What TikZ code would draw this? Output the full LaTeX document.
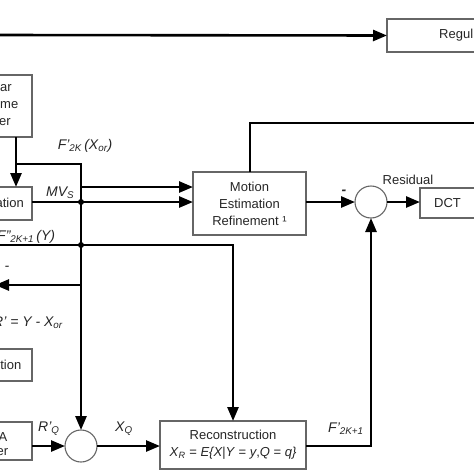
\documentclass[tikz,border=0pt]{standalone}
\usepackage{fontspec}
\setmainfont{Liberation Sans}
\usetikzlibrary{arrows.meta,calc}
\newcommand\sbs[1]{\textsubscript{#1}}
\begin{document}
\begin{tikzpicture}[x=1pt,y=-1pt,
 box/.style={draw=black!60, line width=1.1pt, inner sep=0pt, outer sep=0pt},
 conn/.style={line width=2.6pt, -{Triangle[length=14pt,width=11pt]}},
 wire/.style={line width=2.6pt},
 txt/.style={font=\fontsize{13}{17}\selectfont, text=black!85, inner sep=0pt, align=center},
 lab/.style={font=\fontsize{14}{16}\selectfont\itshape, text=black!85, inner sep=0pt},
 dotc/.style={circle, fill=black, inner sep=0pt, minimum size=6pt},
 sumc/.style={circle, draw=black!60, line width=1.1pt, minimum size=32pt, inner sep=0pt, outer sep=0pt}]
\clip (0,0) rectangle (474,474);
\fill[white] (0,0) rectangle (474,474);
% boxes
\node[box, minimum width=133pt, minimum height=33pt] (regul) at (453.5,35.5) {};
\node[txt, anchor=west] (regult) at (439,35.5) {Regul};
\node[box, minimum width=92pt, minimum height=62pt] (topbox) at (-14,106) {};
\node[txt, anchor=west] (tb1) at (0,88) {ar};
\node[txt, anchor=west] (tb2) at (0,105) {me};
\node[txt, anchor=west] (tb3) at (-1,122) {er};
\node[box, minimum width=92pt, minimum height=33pt] (ation) at (-14,203.5) {};
\node[txt, anchor=east] (ationt) at (24,203) {ation};
\node[box, minimum width=92pt, minimum height=32pt] (tion) at (-14,365) {};
\node[txt, anchor=east] (tiont) at (21.5,365) {tion};
\node[box, minimum width=92pt, minimum height=38pt] (bot) at (-14,441) {};
\node[txt, anchor=east] (bot1) at (7.5,437) {A};
\node[txt, anchor=east] (bot2) at (8.5,452) {er};
\node[box, txt, minimum width=113pt, minimum height=63pt] (me) at (249.5,203.5) {Motion\\Estimation\\Refinement ¹};
\node[box, txt, minimum width=146pt, minimum height=48pt] (rec) at (233,445) {Reconstruction\\\textit{X}\sbs{\textit{R}} = \textit{E\{X|Y} = \textit{y},\textit{Q} = \textit{q\}}};
\node[box, minimum width=100pt, minimum height=30pt] (dct) at (470,203) {};
\node[txt, anchor=west] (dctt) at (434,203) {DCT};
\node[sumc] (res) at (371,202) {};
\node[sumc] (sum) at (81,446) {};
% coordinates
\coordinate (top0) at (-5,35);
\coordinate (v1) at (16,137);
\coordinate (v2) at (16,187);
\coordinate (br) at (16,164);
\coordinate (j1) at (81,187);
\coordinate (j2) at (81,202);
\coordinate (j3) at (81,245);
\coordinate (j4) at (81,285);
\coordinate (l0) at (-5,245);
\coordinate (lout) at (-5,285);
\coordinate (k1) at (233,245);
\coordinate (mt) at (250,172);
\coordinate (mr) at (480,123);
% connectors
\draw[conn] (top0) -- (regul.west);
\draw[conn] (v1) -- (v2);
\draw[conn] (br) -| (sum.north);
\draw[conn] (j1) -- (j1 -| me.west);
\draw[conn] (ation.east |- j2) -- (j2 -| me.west);
\draw[conn] (l0) -| (rec.north -| k1);
\draw[conn] (j4) -- (lout);
\draw[conn] (bot.east |- sum) -- (sum.west);
\draw[conn] (sum.east) -- (rec.west |- sum);
\draw[conn] (rec.east |- sum) -| (res.south);
\draw[conn] (me.east |- res) -- (res.west);
\draw[conn] (res.east) -- (dct.west |- res);
\draw[wire] (mt) |- (mr);
\node[dotc] (d1) at (j2) {};
\node[dotc] (d2) at (j3) {};
% labels
\node[lab] (lf1) at (85,146) {F'\sbs{2K}\,(X\sbs{or})};
\node[lab, anchor=west] (lmv) at (46,193) {MV\sbs{S}};
\node[lab, anchor=west] (lf2) at (-3,237) {F''\sbs{2K+1}\,(Y)};
\node[lab] (lm1) at (7,268) {-};
\node[lab, anchor=west] (lr) at (-7,323) {R' = Y - X\sbs{or}};
\node[lab, anchor=west] (lrq) at (38,429) {R'\sbs{Q}};
\node[lab, anchor=west] (lxq) at (115,429) {X\sbs{Q}};
\node[lab, anchor=west] (lf3) at (328,429) {F'\sbs{2K+1}};
\node[lab] (lm2) at (344,192) {\bfseries -};
\node[txt] (lres) at (408,180) {Residual};
\end{tikzpicture}
\end{document}
